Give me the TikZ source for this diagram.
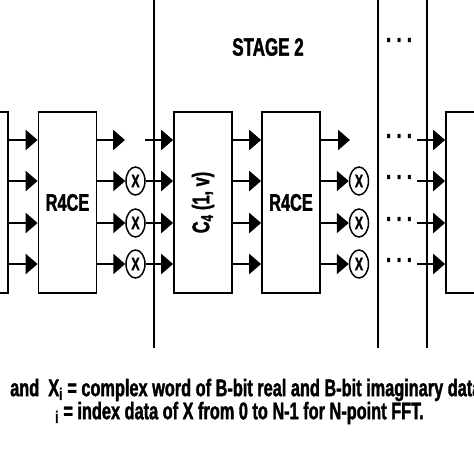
\documentclass[tikz,border=0pt]{standalone}
\usepackage{fontspec}
\setsansfont{Liberation Sans}[FakeStretch=0.68, BoldFeatures={FakeBold=1.5}]
\usetikzlibrary{arrows.meta,shapes.geometric}

\tikzset{
  blk/.style={draw, line width=1.8pt, minimum width=58pt, minimum height=181pt,
    inner sep=0pt, font=\sffamily\bfseries\fontsize{24}{24}\selectfont},
  arr/.style={line width=2.6pt, -{Triangle[length=12pt,width=20pt]}},
  mul/.style={draw, ellipse, line width=1.5pt, minimum width=19pt, minimum height=28pt,
    inner sep=0pt, font=\sffamily\bfseries\fontsize{18}{18}\selectfont},
  sep/.style={line width=1.3pt},
  dots/.style={font=\sffamily\bfseries\fontsize{26}{26}\selectfont, inner sep=0pt},
  lbl/.style={font=\sffamily\bfseries\fontsize{24}{24}\selectfont, inner sep=0pt}
}
\newcommand{\tridots}{.\hspace{5.5pt}.\hspace{5.5pt}.}

\begin{document}
\begin{tikzpicture}[x=1pt, y=-1pt]
\useasboundingbox (0,0) rectangle (474,474);

% stage separators
\draw[sep] (154,0) -- (154,348);
\draw[sep] (378,0) -- (378,348);
\draw[sep, line width=1.8pt] (427,0) -- (427,348);

\node[lbl, font=\sffamily\bfseries\fontsize{25}{25}\selectfont] (stage) at (268,47) {STAGE 2};
\node[dots] (topdots) at (399,40) {\tridots};

% blocks
\node[blk] (first) at (-21,202.5) {};
\node[blk] (ra) at (67.5,202.5) {R4CE};
\node[blk] (ca) at (203,202.5) {\rotatebox{90}{C\textsubscript{4} (1, v)}};
\node[blk] (rb) at (291,202.5) {R4CE};
\node[blk] (last) at (475,202.5) {};

\foreach \y [count=\i] in {140,181,223,264}
{
	\coordinate (row\i) at (0,\y);
	\draw[arr] (first.east |- row\i) -- (ra.west |- row\i);
	\draw[arr] (ca.east |- row\i) -- (rb.west |- row\i);
	\node[dots] (dots\i) at (399,\y-4) {\tridots};
	\coordinate (feed\i) at (417,\y);
	\draw[arr] (feed\i) -- (last.west |- row\i);
}

% top row skips the multipliers
\coordinate (outa) at (125,140);
\coordinate (ina) at (145,140);
\coordinate (outb) at (350,140);
\draw[arr] (ra.east |- row1) -- (outa);
\draw[arr] (ina) -- (ca.west |- row1);
\draw[arr] (rb.east |- row1) -- (outb);

\foreach \i/\y in {2/181, 3/223, 4/264}
{
	\node[mul] (ma\i) at (135.5,\y) {X};
	\node[mul] (mb\i) at (359,\y) {X};
	\draw[arr] (ra.east |- row\i) -- (ma\i.west);
	\draw[arr] (ma\i) -- (ca.west |- row\i);
	\draw[arr] (rb.east |- row\i) -- (mb\i.west);
}

\node[lbl, anchor=west] (cap1) at (10,390) {and\ \ X\textsubscript{i} = complex word of B-bit real and B-bit imaginary data};
\node[lbl, anchor=west] (cap2) at (55,413) {\textsubscript{i} = index data of X from 0 to N-1 for N-point FFT.};

\end{tikzpicture}
\end{document}
